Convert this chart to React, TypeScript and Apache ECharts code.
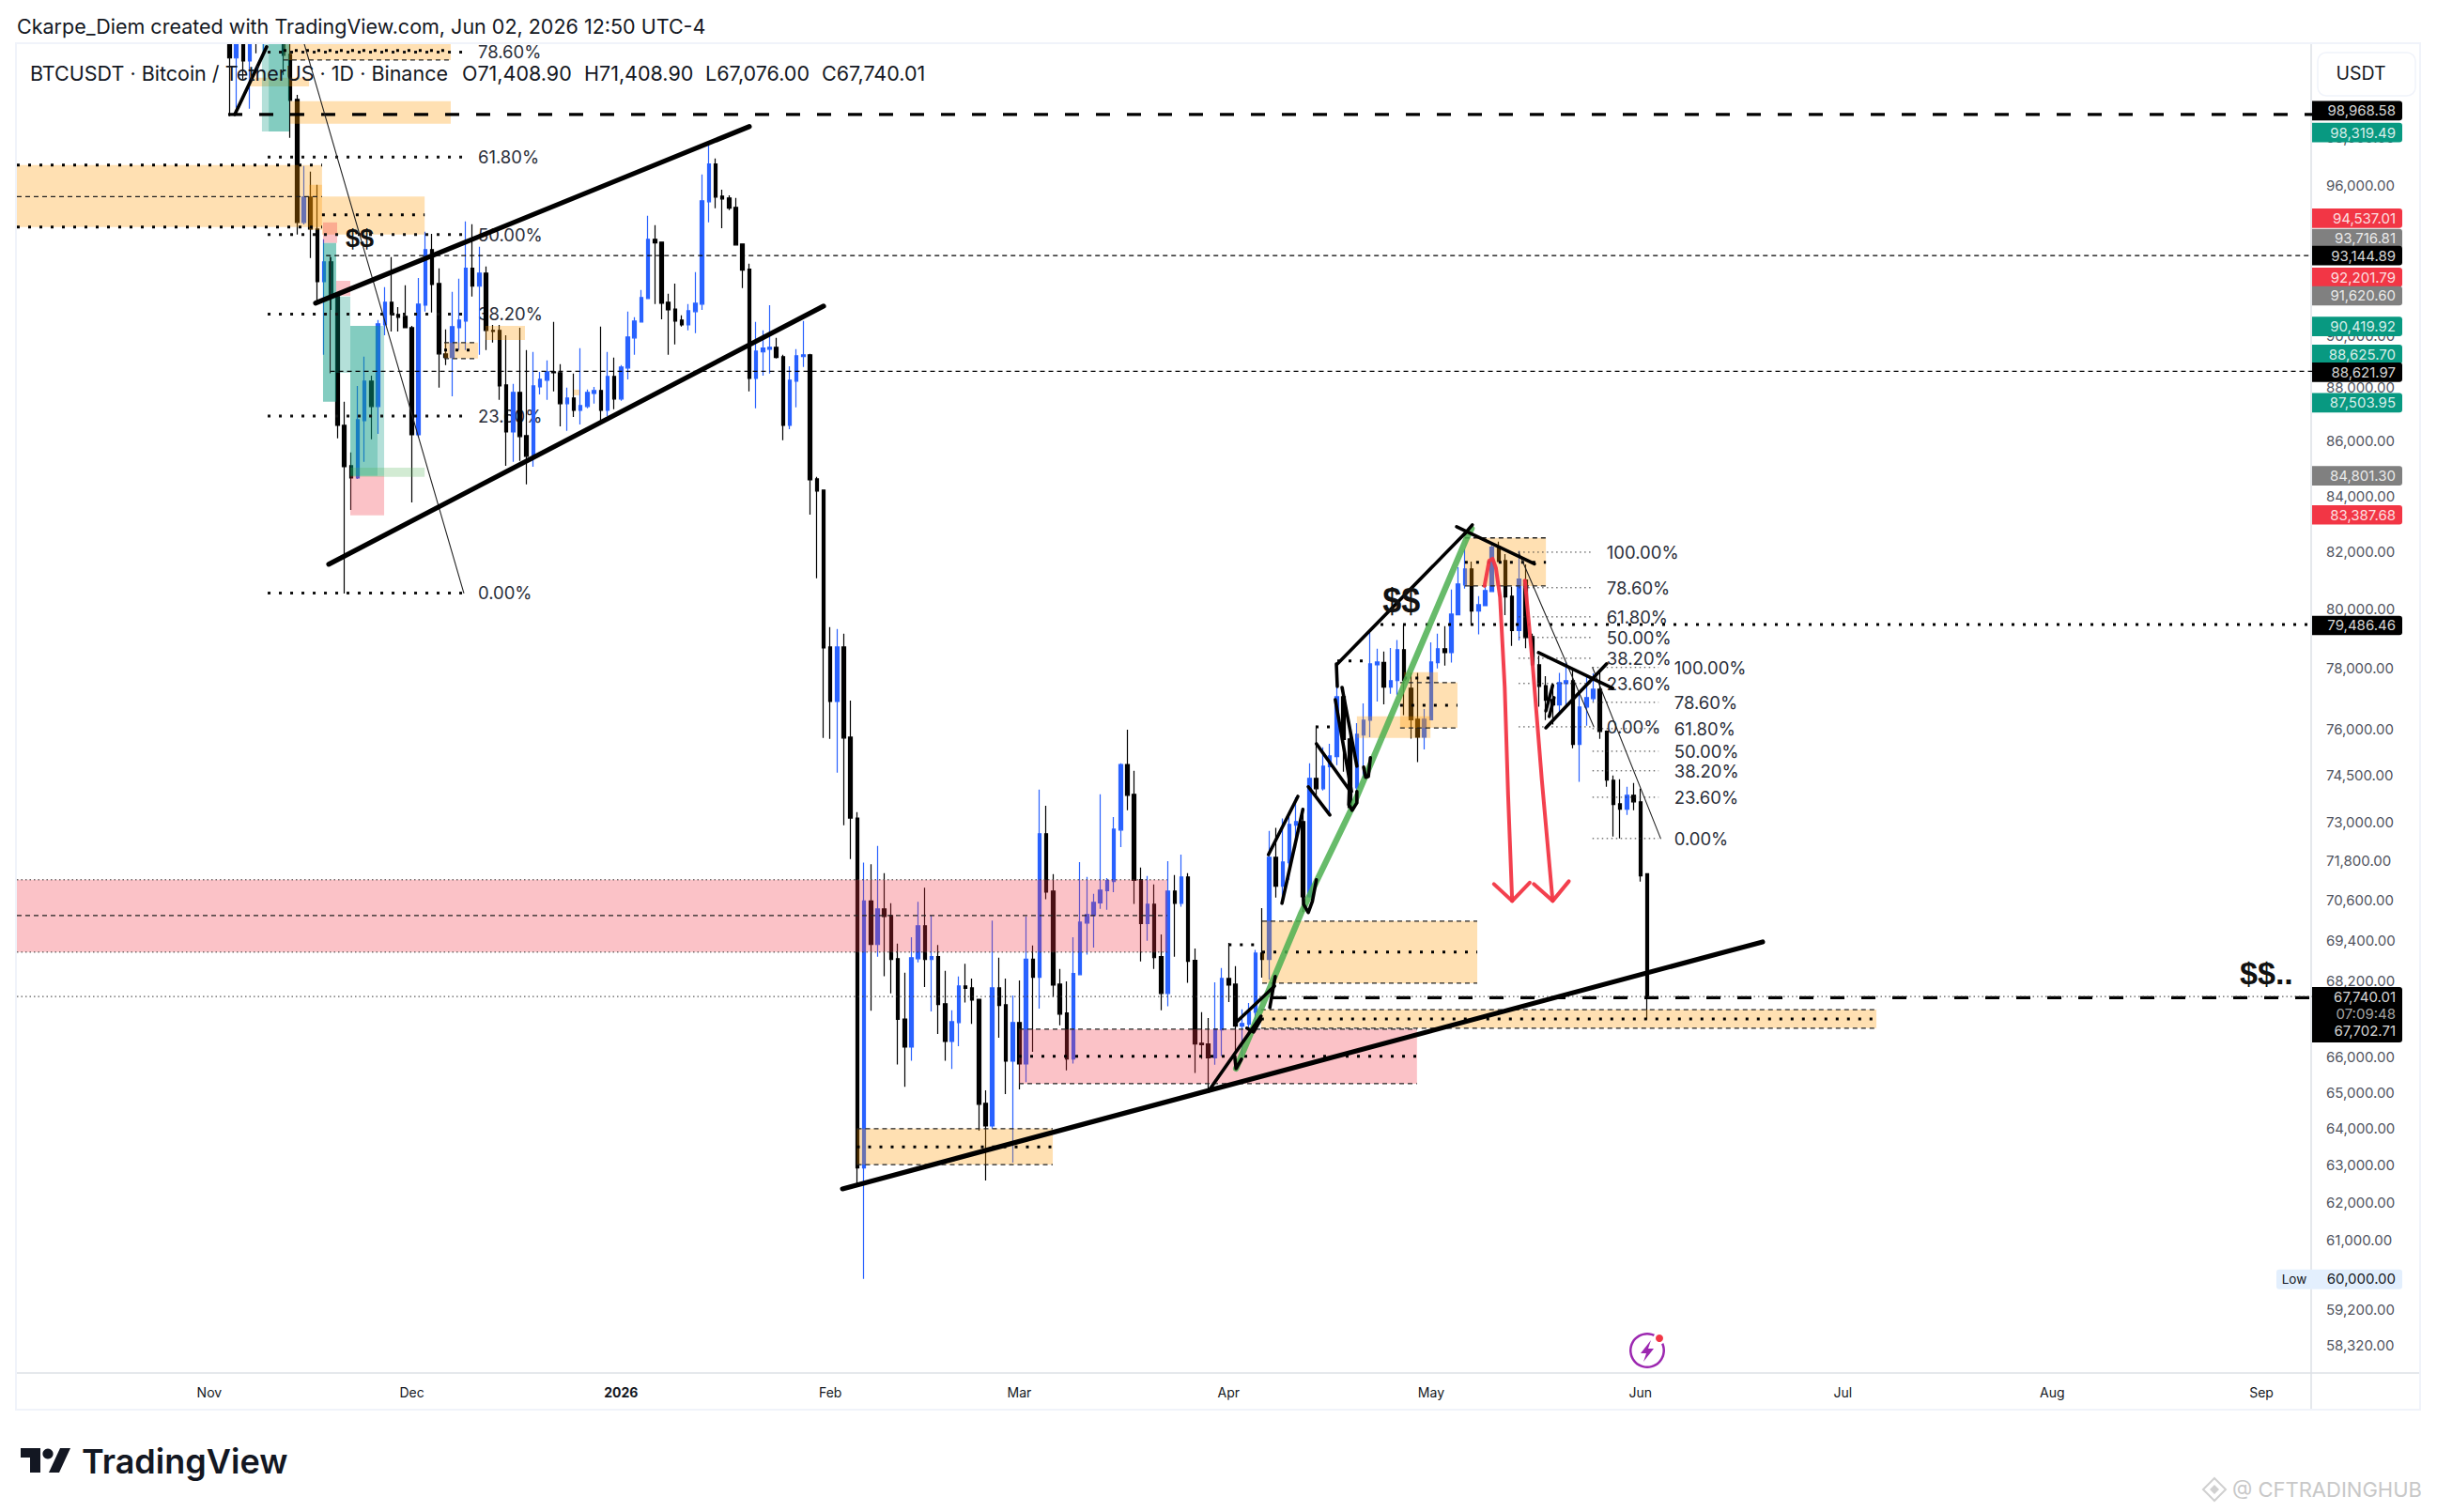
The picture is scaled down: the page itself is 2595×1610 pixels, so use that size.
import React, { useEffect, useRef } from "react";
import * as echarts from "echarts";

const FONT = 'Inter, "Liberation Sans", Arial, sans-serif';
const BOLD_FONT = '"Liberation Sans", Arial, sans-serif';
const dayCount = 340;
const startDate = Date.UTC(2025, 9, 4);
const monthNames = ["2026", "Feb", "Mar", "Apr", "May", "Jun", "Jul", "Aug", "Sep", "Oct", "Nov", "Dec"];
const firstCandleIndex = 31;

// [open, high, low, close] daily
const ohlc: number[][] = [
  [103500,104800,98890,101400],[101400,103300,99250,103000],[103000,103600,100460,101270],[101270,103200,99210,102800],
  [103200,103900,101600,102700],[102700,104600,101600,104000],[106000,106500,103000,104000],[105000,105500,103000,103500],
  [103000,103500,100665,101520],[101560,102100,97975,99570],[99610,99810,93985,94480],[94480,96800,94400,95515],
  [95515,96565,93045,94215],[94215,96020,91220,92105],[92105,93800,89255,92895],[92895,93080,90995,91480],
  [91515,91550,86105,86590],[86590,87470,80550,85065],[85100,85585,83500,84655],[84655,88070,84620,86800],
  [86765,89185,85240,88250],[88250,88460,86070,87295],[87295,90595,86275,90450],[90410,91885,90010,91295],
  [91295,93080,90155,90815],[90815,91105,90155,90705],[90745,91960,90300,90300],[90300,90375,83770,86240],
  [86240,92255,86140,91220],[91180,94100,90925,93380],[93380,94020,90890,91995],[92030,92635,88000,89290],
  [89290,90230,88860,89150],[89150,91700,87680,90340],[90300,92220,89435,90595],[90560,94520,89435,92635],
  [92635,94405,91515,91925],[91925,93495,89255,92445],[92445,92710,89435,90195],[90195,90410,89725,90155],
  [90195,90410,87540,88070],[88105,90010,85100,86345],[86345,88145,85240,87825],[87825,90300,85275,86175],
  [86205,89435,84420,85445],[85445,89365,85065,88070],[88035,88605,87750,88320],[88285,89040,87540,88605],
  [88605,90525,87860,88570],[88570,88895,86555,87400],[87400,88000,86385,87610],[87610,88535,86905,87150],
  [87150,89510,86625,87330],[87295,87930,87225,87825],[87785,88035,87400,87895],[87895,90340,86765,87150],
  [87150,89365,86940,88425],[88425,89150,87190,87575],[87575,88860,87505,88785],[88750,90925,88320,89940],
  [89905,90705,89255,90560],[90525,91775,90525,91480],[91440,94750,91440,93800],[93800,94365,91220,93650],
  [93685,93685,90630,91255],[91295,91625,89255,90995],[91030,92030,89650,90560],[90595,90780,90340,90410],
  [90410,91220,90195,90960],[90925,92480,90085,91255],[91220,96450,90995,95365],[95325,97660,94480,96880],
  [96880,97110,95060,95515],[95555,95820,94250,95440],[95480,95590,94980,95060],[95095,95480,93570,93570],
  [93610,93610,91850,92560],[92600,92820,87860,88355],[88355,90525,87225,89400],[89365,90195,88460,89510],
  [89470,91180,88535,89545],[89545,89905,89110,89150],[89185,89255,86035,86590],[86590,88820,86450,88285],
  [88250,89470,87260,89220],[89185,90560,88785,89255],[89255,89290,83330,84585],[84620,84690,81080,84180],
  [84215,84215,75700,78690],[78720,79395,75670,76900],[76900,79330,74580,78720],[78720,79170,72915,75700],
  [75730,76930,71860,73140],[73140,73325,62515,62930],[62930,71750,60000,70580],[70580,71700,67325,69270],
  [69270,72270,68910,70340],[70340,71430,68330,70110],[70140,70510,67830,68825],[68850,69295,65790,67080],
  [67090,68435,65160,66285],[66285,69490,65895,68880],[68850,70555,68740,69830],[69830,70980,68020,68825],
  [68825,70140,67310,68910],[68910,69260,66660,67510],[67530,68490,65895,66445],[66445,67340,65660,67010],
  [66985,68325,66310,68045],[68045,68700,67565,67975],[67990,68265,66950,67635],[67660,67660,63945,64675],
  [64700,65065,62590,64075],[64075,69990,64000,67990],[67990,68880,66550,67480],[67500,68265,64960,65885],
  [65885,67770,63070,66985],[66985,68210,65090,65805],[65805,70110,65290,68835],[68835,69240,66150,68300],
  [68300,74040,67390,72650],[72650,73530,70630,70850],[70880,71400,67730,68075],[68100,68545,66910,67230],
  [67260,68185,65620,65945],[65945,69490,65815,68410],[68380,71770,68380,69940],[69915,71310,68970,70170],
  [70140,70800,69180,70540],[70520,73890,70340,70910],[70890,71280,70310,71205],[71175,73175,70850,72790],
  [72765,74885,72235,74845],[74845,75975,73390,73860],[73890,74640,70490,71205],[71230,71600,68770,69895],
  [69895,71340,69380,70480],[70480,71080,68545,68880],[68910,69575,67340,67830],[67830,71800,67455,70880],
  [70880,71370,68910,70510],[70510,72000,70405,71310],[71310,71430,68140,68770],[68800,69155,65550,66375],
  [66395,67285,65950,66350],[66370,67120,65090,65975],[65975,68155,65780,66805],[66775,68575,66030,68265],
  [68265,69320,67580,68075],[68100,68630,65950,66885],[66885,67365,66020,66960],[66940,67555,66690,67290],
  [67280,69110,66775,69015],[69015,70360,68295,68830],[68830,72735,68240,71915],[71915,72835,70680,71030],
  [71030,73125,70570,71770],[71750,73175,71230,72940],[72915,73795,72205,73030],[73030,73420,70240,70710],
  [70710,74885,70680,74400],[74400,76100,73770,74070],[74070,75395,74010,74790],[74770,75515,73240,75120],
  [75100,77995,74820,77055],[77055,77375,74610,75655],[75670,76040,73470,73470],[74100,76190,73980,75825],
  [75795,76835,74400,76285],[76285,79200,75730,78150],[78120,78660,76900,78215],[78200,78565,76805,77375],
  [77375,78690,77150,77590],[77590,78955,77120,78630],[78630,79460,76445,77590],[77340,77850,75680,76295],
  [76315,77850,74920,75730],[75730,76650,75330,76315],[76295,78880,76285,78215],[78195,79170,78000,78660],
  [78660,79430,78090,78530],[78530,80685,78195,79840],[79820,81470,79810,80885],[80850,82100,80720,81405],
  [81405,81665,79460,79950],[79950,80460,79150,80165],[80130,80785,80130,80655],[80620,82350,80620,82175],
  [82200,82365,81665,81665],[81700,81930,79810,80435],[80460,80785,78755,79280],[79280,82040,78945,81055],
  [81020,81565,78680,79040],[79075,79170,78120,78120],[78120,78435,76725,77400],[77425,77740,76285,76940],
  [76960,77495,76140,76785],[76785,77850,76500,77525],[77495,78215,76715,77590],[77590,78000,75365,75495],
  [75495,77215,74290,76715],[76715,77740,76100,77025],[76995,77835,76900,77305],[77305,77900,75670,75915],
  [75925,75950,74130,74340],[74340,74490,72560,73570],[73590,74370,72500,73420],[73420,74130,73240,73860],
  [73860,74250,73390,73650],[73650,74070,71170,71345],[71408.9,71408.9,67076,67740.01],
];

const yMin = 57619;
const yMax = 102005;
const priceTicks = [98000,96000,90000,88000,86000,84000,82000,80000,78000,76000,74500,73000,71800,70600,69400,68200,66000,65000,64000,63000,62000,61000,60000,59200,58320];

// Drawings: x is in days on the chart's day scale, y is price
const orangeZones = [
  [39.5,64.27,101310,102300],[34.36,43.27,100170,100540],[40.5,64.27,98570,99530],[0,45.2,94290,96840],
  [45.2,60.4,93985,95535],[43.27,45.2,94180,96020],[63.3,68.3,89110,89725],[69.42,75.26,89830,90375],[82.5,83.33,87715,87930],
  [124.44,153.45,63020,64000],[184.47,216.33,68130,69970],[184.3,275.46,66825,67360],[214.5,226.5,80815,82500],
  [204.9,213.4,76030,77525],[198.5,209.4,75700,76410],[205.5,210.5,77525,77870],
];
const pinkZones = [
  [0,170.4,69045,71225],[148.44,207.4,65250,66795],[45.35,47.44,93650,94480],[47.3,49.39,91550,92140],[49.39,54.4,83300,84725],
];
const tealDarkZones = [[37.3,40.34,98250,102100],[45.35,47.3,87470,93650],[49.39,53.42,84725,90375]];
const tealLightZones = [[36.3,37.3,98250,102100],[47.3,49.39,88570,91515],[53.42,54.4,84725,90375]];
const greenBarZones = [[49.39,60.4,84690,85030]];

const heavyTrendLines = [
  [[44.24,91260],[108.5,98455]],
  [[46.19,81570],[119.5,91145]],
  [[122.3,62365],[258.6,69350]],
];
const penLines = [
  [[32.28,98970],[37,101887]],
  [[195.6,78150],[214.67,82700]],
  [[213.27,82900],[224.8,81585]],
  [[215.6,82965],[214.4,82630]],
  [[225.4,78530],[236.4,77340]],
  [[226.5,76035],[235.5,78155]],
  [[195.46,78150],[195.6,77395]],
  [[195.3,76960],[197.7,73980]],
  [[196.3,77365],[198.5,74790]],
  [[192.5,75515],[197.55,73980]],
  [[191.3,74130],[194.5,73235]],
  [[185.4,72000],[189.76,73825]],
  [[187.4,70510],[190.5,73415]],
  [[190.5,71140],[190.6,70480],[191.3,70230],[191.9,70565],[192.5,71225]],
  [[197.4,74070],[197.3,73560],[197.8,73385],[198.5,73620],[198.5,73980]],
  [[199.5,74760],[199.8,74430],[200.2,74460],[200.5,75060]],
  [[180.7,67010],[186.3,68045]],
  [[185.6,67420],[186.4,68325]],
  [[182.2,66825],[183.2,66715],[184.3,67090]],
  [[180.4,66020],[180.6,65675],[181.4,65940]],
  [[176.5,65035],[184.3,67170]],
  [[226.5,76590],[227.5,77430]],
  [[227,76405],[227.7,77025]],
];
const greenPath = [[[180.6,65675],[190.2,70195],[197.8,73470],[214.7,82460],[215.5,82830]]];
const redPaths = [
  [[217.4,80815],[218.1,81700],[218.6,81765],[219.1,81435],[219.7,80430],[220.4,77370],[220.9,73870],[221.5,70580]],
  [[218.8,71095],[221.5,70580],[224.1,71140]],
  [[223.4,81000],[224.5,78215],[225.9,74340],[227.5,70580]],
  [[224.7,71095],[227.5,70580],[229.9,71180]],
];
const thinPaths = [
  [[42.57,102010],[66.2,80570]],
  [[222.46,81995],[233.6,76065]],
  [[233.4,78030],[243.5,72500]],
  [[46.4,93080],[46.4,88570]],
];

const fibLeftPrices = [101660,97170,93985,90830,86940,80570];
const fibLeftLabels = ["78.60%","61.80%","50.00%","38.20%","23.60%","0.00%"];
const fibMidPrices = [81995,80752,79746,79042,78340,77495,76065];
const fibRightPrices = [78030,76870,76005,75271,74640,73797,72500];
const fibFullLabels = ["100.00%","78.60%","61.80%","50.00%","38.20%","23.60%","0.00%"];

const bigDashLevels = [[31.3,98968.58],[186,67702.71]];
const thinDashLevels = [[45.8,93144.89],[46.4,88621.97]];
const bigDotLevels = [
  [202,340,79486.46],[0,45.2,96840],[0,45.2,94290],[45.2,60.4,94790],[39.5,64.27,101725],[63.3,68.3,89435],
  [148.44,207.4,66020],[124.44,153.45,63500],[184.47,216.33,69045],[184.3,275.46,67090],[214.5,226.5,81635],
  [204.9,213.4,76775],[205.5,210.5,77680],[195.6,199.4,78250],[192.4,194.5,76065],[179.5,183.5,69265],
];
const zoneDashLevels = [
  [39.5,64.27,101310],[0,45.2,95535],[63.3,68.3,89725],[63.3,68.3,89110],[0,170.4,70140],
  [148.44,207.4,66795],[148.44,207.4,65250],[124.44,153.45,64000],[124.44,153.45,63020],
  [184.47,216.33,69970],[184.47,216.33,68130],[184.3,275.46,67360],[184.3,275.46,66825],
  [214.5,226.5,82500],[214.5,226.5,80815],[204.9,213.4,77525],[204.9,213.4,76030],
];
const thinDotLevels = [[0,340,67740.01],[0,170.4,71225],[0,170.4,69045]];

const notePositions = [[48.7,93835],[202.3,80295],[329.3,68430]];
const noteTexts = ["$$","$$","$$.."];
const noteSizes = [27,36,34];

const tagPrices = [98968.58,98319.49,94537.01,93716.81,93144.89,92201.79,91620.6,90419.92,88625.7,88621.97,87503.95,84801.3,83387.68,79486.46];
const tagColors = ["#000000","#089981","#F23645","#808080","#000000","#F23645","#808080","#089981","#089981","#000000","#089981","#808080","#F23645","#000000"];
const tagNudges = [-4,3,-3,-3,0,-2,2,2,-18,1,2,2,2,1];
const currentPrice = 67740.01;
const countdownText = "07:09:48";
const currentPrice2 = 67702.71;
const lowPrice = 60000;

const fmt = (v: number) => v.toLocaleString("en-US", { minimumFractionDigits: 2, maximumFractionDigits: 2 });

const categories = Array.from({ length: dayCount }, (_, i) => new Date(startDate + i * 86400000).toISOString().slice(0, 10));
const candleData = categories.map((_, i) => {
  const r = ohlc[i - firstCandleIndex];
  return r ? [r[0], r[3], r[2], r[1]] : ["-", "-", "-", "-"];
});

function zoneSeries(rows: number[][], color: string, z: number) {
  return {
    type: "custom", xAxisIndex: 1, yAxisIndex: 0, z, clip: true, silent: true,
    encode: { x: [0, 1], y: [2, 3] },
    data: rows,
    renderItem: (_: any, api: any) => {
      const a = api.coord([api.value(0), api.value(3)]);
      const b = api.coord([api.value(1), api.value(2)]);
      return { type: "rect", shape: { x: a[0], y: a[1], width: b[0] - a[0], height: b[1] - a[1] }, style: { fill: color } };
    },
  };
}

function pathSeries(paths: number[][][], stroke: string, lineWidth: number, z: number, lineDash?: number[], lineCap = "round") {
  return {
    type: "custom", xAxisIndex: 1, yAxisIndex: 0, z, clip: true, silent: true,
    encode: { x: 0, y: 1 },
    data: paths.map((p) => p[0]),
    renderItem: (params: any, api: any) => ({
      type: "polyline",
      shape: { points: paths[params.dataIndex].map((p) => api.coord(p)) },
      style: { fill: null, stroke, lineWidth, lineDash, lineCap, lineJoin: "round" },
    }),
  };
}

const segs = (rows: number[][]) => rows.map((r) => [[r[0], r[2]], [r[1], r[2]]]);
const toEnd = (rows: number[][]) => rows.map((r) => [[r[0], r[1]], [dayCount, r[1]]]);

function textSeries(rows: number[][], texts: string[], z: number, font: string, fill: string) {
  return {
    type: "custom", xAxisIndex: 1, yAxisIndex: 0, z, clip: false, silent: true,
    encode: { x: 0, y: 1 },
    data: rows,
    renderItem: (params: any, api: any) => {
      const p = api.coord([api.value(0), api.value(1)]);
      return { type: "text", x: p[0], y: p[1], style: { text: texts[params.dataIndex], font, fill, textAlign: "left", textVerticalAlign: "middle" } };
    },
  };
}

const TAG_FONT = `15px ${FONT}`;

function tagSeries() {
  return {
    type: "custom", xAxisIndex: 1, yAxisIndex: 0, z: 12, clip: false, silent: true,
    encode: { y: 0 },
    data: tagPrices.map((p) => [dayCount, p]),
    renderItem: (params: any, api: any) => {
      const i = params.dataIndex;
      const p = api.coord([dayCount, tagPrices[i]]);
      const cy = p[1] + tagNudges[i];
      return {
        type: "group",
        children: [
          { type: "rect", shape: { x: p[0], y: cy - 10.3, width: 96, height: 20.6, r: [0, 3, 3, 0] }, style: { fill: tagColors[i] } },
          { type: "text", x: p[0] + 89, y: cy, style: { text: fmt(tagPrices[i]), font: TAG_FONT, fill: "rgba(255,255,255,0.85)", textAlign: "right", textVerticalAlign: "middle" } },
        ],
      };
    },
  };
}

function currentTagSeries() {
  return {
    type: "custom", xAxisIndex: 1, yAxisIndex: 0, z: 13, clip: false, silent: true,
    encode: { y: 0 },
    data: [[dayCount, currentPrice]],
    renderItem: (_: any, api: any) => {
      const p = api.coord([dayCount, currentPrice]);
      return {
        type: "group",
        children: [
          { type: "rect", shape: { x: p[0], y: p[1] - 10, width: 96, height: 59, r: [0, 3, 3, 0] }, style: { fill: "#000000" } },
          { type: "text", x: p[0] + 89, y: p[1], style: { text: fmt(currentPrice), font: TAG_FONT, fill: "rgba(255,255,255,0.85)", textAlign: "right", textVerticalAlign: "middle" } },
          { type: "text", x: p[0] + 89, y: p[1] + 18, style: { text: countdownText, font: TAG_FONT, fill: "rgba(255,255,255,0.65)", textAlign: "right", textVerticalAlign: "middle" } },
          { type: "text", x: p[0] + 89, y: p[1] + 36, style: { text: fmt(currentPrice2), font: TAG_FONT, fill: "rgba(255,255,255,0.85)", textAlign: "right", textVerticalAlign: "middle" } },
        ],
      };
    },
  };
}

function lowTagSeries() {
  return {
    type: "custom", xAxisIndex: 1, yAxisIndex: 0, z: 13, clip: false, silent: true,
    encode: { y: 0 },
    data: [[dayCount, lowPrice]],
    renderItem: (_: any, api: any) => {
      const p = api.coord([dayCount, lowPrice]);
      return {
        type: "group",
        children: [
          { type: "rect", shape: { x: p[0] - 38, y: p[1] - 10, width: 134, height: 21, r: 3 }, style: { fill: "#E3EFFD" } },
          { type: "text", x: p[0] - 19, y: p[1], style: { text: "Low", font: `13.5px ${FONT}`, fill: "#131722", textAlign: "center", textVerticalAlign: "middle" } },
          { type: "text", x: p[0] + 89, y: p[1], style: { text: fmt(lowPrice), font: TAG_FONT, fill: "#131722", textAlign: "right", textVerticalAlign: "middle" } },
        ],
      };
    },
  };
}

const PANEL = "#F0F3FA";
const RULE = "#DDE0E6";
const TITLE_FONT = `21.5px ${FONT}`;
const LEGEND_FONT = `21.5px ${FONT}`;

const chrome: any[] = [
  // blank strip above the plot: candles that run off the top of the price range stop at its edge
  { type: "rect", z: 2.5, shape: { x: 0, y: 0, width: 2595, height: 46 }, style: { fill: "#ffffff" } },
  { type: "rect", z: 2.6, shape: { x: 17, y: 46, width: 2560, height: 1455 }, style: { fill: "none", stroke: PANEL, lineWidth: 2 } },
  { type: "line", z: 1, shape: { x1: 18, y1: 1462, x2: 2577, y2: 1462 }, style: { stroke: RULE, lineWidth: 1.5 } },
  { type: "line", z: 1, shape: { x1: 2461, y1: 47, x2: 2461, y2: 1501 }, style: { stroke: RULE, lineWidth: 1.5 } },
  { type: "rect", z: 1, shape: { x: 2468, y: 56, width: 104, height: 46, r: 9 }, style: { fill: "#fff", stroke: PANEL, lineWidth: 1.5 } },
  { type: "text", z: 30, x: 2514, y: 78, style: { text: "USDT", font: `19.5px ${FONT}`, fill: "#131722", textAlign: "center", textVerticalAlign: "middle" } },
  { type: "text", z: 30, x: 18, y: 28, style: { text: "Ckarpe_Diem created with TradingView.com, Jun 02, 2026 12:50 UTC-4", font: TITLE_FONT, fill: "#131722", textVerticalAlign: "middle" } },
  { type: "text", z: 30, x: 32, y: 78, style: { text: "BTCUSDT · Bitcoin / TetherUS · 1D · Binance", font: LEGEND_FONT, fill: "#131722", textVerticalAlign: "middle" } },
  { type: "text", z: 30, x: 492, y: 78, style: { text: "O71,408.90", font: LEGEND_FONT, fill: "#131722", textVerticalAlign: "middle" } },
  { type: "text", z: 30, x: 622, y: 78, style: { text: "H71,408.90", font: LEGEND_FONT, fill: "#131722", textVerticalAlign: "middle" } },
  { type: "text", z: 30, x: 751, y: 78, style: { text: "L67,076.00", font: LEGEND_FONT, fill: "#131722", textVerticalAlign: "middle" } },
  { type: "text", z: 30, x: 875, y: 78, style: { text: "C67,740.01", font: LEGEND_FONT, fill: "#131722", textVerticalAlign: "middle" } },
  // news icon
  { type: "ring", z: 5, shape: { cx: 1754, cy: 1438, r: 19, r0: 16.5 }, style: { fill: "#9C27B0" } },
  { type: "polygon", z: 5, shape: { points: [[1758, 1427], [1747, 1441], [1753, 1441], [1750, 1450], [1761, 1436], [1755, 1436]] }, style: { fill: "#9C27B0" } },
  { type: "circle", z: 6, shape: { cx: 1767, cy: 1425, r: 6.5 }, style: { fill: "#fff" } },
  { type: "circle", z: 7, shape: { cx: 1767, cy: 1425, r: 4 }, style: { fill: "#F23645" } },
  // TradingView logo
  { type: "polygon", z: 5, shape: { points: [[22, 1542], [43, 1542], [43, 1568], [32, 1568], [32, 1552], [22, 1552]] }, style: { fill: "#131722" } },
  { type: "circle", z: 5, shape: { cx: 51, cy: 1548, r: 5.6 }, style: { fill: "#131722" } },
  { type: "polygon", z: 5, shape: { points: [[52, 1568], [64, 1542], [75, 1542], [63, 1568]] }, style: { fill: "#131722" } },
  { type: "text", z: 5, x: 87, y: 1556, style: { text: "TradingView", font: `600 36px ${FONT}`, fill: "#131722", textVerticalAlign: "middle" } },
  // watermark
  { type: "polygon", z: 5, shape: { points: [[2358, 1574], [2370, 1586], [2358, 1598], [2346, 1586]] }, style: { fill: "none", stroke: "#D0D0D0", lineWidth: 2 } },
  { type: "polygon", z: 5, shape: { points: [[2358, 1581], [2363, 1586], [2358, 1591], [2353, 1586]] }, style: { fill: "#D0D0D0" } },
  { type: "text", z: 5, x: 2377, y: 1586, style: { text: "@ CFTRADINGHUB", font: `22px ${FONT}`, fill: "#C8C8C8", textVerticalAlign: "middle" } },
];

const option: any = {
  animation: false,
  backgroundColor: "#ffffff",
  grid: { left: 18, right: 133, top: 47, bottom: 148 },
  xAxis: [
    {
      type: "category",
      data: categories,
      boundaryGap: true,
      axisLine: { show: false },
      axisTick: { show: false },
      splitLine: { show: false },
      axisLabel: {
        interval: (_: number, v: string) => v.endsWith("-01"),
        margin: 13,
        fontFamily: FONT,
        fontSize: 14,
        color: "#131722",
        formatter: (v: string) => {
          const m = Number(v.slice(5, 7));
          if (m === 1) return "{b|2026}";
          return m >= 10 ? { 10: "Oct", 11: "Nov", 12: "Dec" }[m] : monthNames[m - 1];
        },
        rich: { b: { fontWeight: "bold", fontFamily: FONT, fontSize: 14, color: "#131722" } },
      },
    },
    { type: "value", min: 0, max: dayCount, show: false },
  ],
  yAxis: {
    type: "log",
    logBase: 10,
    min: yMin,
    max: yMax,
    position: "right",
    axisLine: { show: false },
    axisTick: { show: false },
    splitLine: { show: false },
    minorTick: { show: false },
    axisLabel: {
      customValues: priceTicks,
      margin: 15,
      fontFamily: FONT,
      fontSize: 15,
      color: "#50535E",
      hideOverlap: false,
      formatter: (v: number) => fmt(v),
    },
  },
  graphic: chrome,
  series: [
    textSeries(fibLeftPrices.map((p) => [68.3, p]), fibLeftLabels, 1, `18.5px ${FONT}`, "#2A2E39"),
    textSeries(fibMidPrices.map((p) => [235.5, p]), fibFullLabels, 1, `18.5px ${FONT}`, "#2A2E39"),
    textSeries(fibRightPrices.map((p) => [245.5, p]), fibFullLabels, 1, `18.5px ${FONT}`, "#2A2E39"),
    {
      type: "candlestick",
      xAxisIndex: 0,
      yAxisIndex: 0,
      z: 2,
      barWidth: 4,
      clip: true,
      data: candleData,
      itemStyle: { color: "#2962FF", color0: "#000000", borderColor: "#2962FF", borderColor0: "#000000", borderColorDoji: "#000000", borderWidth: 1.2 },
    },
    zoneSeries(orangeZones, "rgba(255,152,0,0.3)", 3),
    zoneSeries(pinkZones, "rgba(242,54,69,0.3)", 3),
    zoneSeries(tealDarkZones, "rgba(8,153,129,0.5)", 3),
    zoneSeries(tealLightZones, "rgba(8,153,129,0.3)", 3),
    zoneSeries(greenBarZones, "rgba(76,175,80,0.25)", 3),
    pathSeries(segs(fibLeftPrices.map((p) => [37.15, 66.2, p])), "#111", 3, 4, [3, 9], "butt"),
    pathSeries(segs(fibMidPrices.map((p) => [222.46, 233.16, p])), "#333", 1, 4, [1.5, 3.5], "butt"),
    pathSeries(segs(fibRightPrices.map((p) => [233.4, 243.2, p])), "#333", 1, 4, [1.5, 3.5], "butt"),
    pathSeries(toEnd(bigDashLevels), "#000", 3.2, 4, [15, 18], "butt"),
    pathSeries(toEnd(thinDashLevels), "#000", 1.3, 4, [5, 4], "butt"),
    pathSeries(segs(bigDotLevels), "#000", 3, 4, [3, 9], "butt"),
    pathSeries(segs(zoneDashLevels), "#222", 1.3, 4, [5, 4], "butt"),
    pathSeries(segs(thinDotLevels), "#333", 1, 4, [1.5, 3], "butt"),
    pathSeries(thinPaths, "#222", 1.1, 5),
    pathSeries(greenPath, "rgba(76,175,80,0.85)", 6.5, 5),
    pathSeries(heavyTrendLines, "#000", 5.2, 6),
    pathSeries(penLines, "#000", 3.6, 6),
    pathSeries(redPaths, "rgba(242,54,69,0.95)", 4, 7),
    ...notePositions.map((p, i) => textSeries([p], [noteTexts[i]], 8, `bold ${noteSizes[i]}px ${BOLD_FONT}`, "#111")),
    tagSeries(),
    currentTagSeries(),
    lowTagSeries(),
  ],
};

export default function App() {
  const ref = useRef<HTMLDivElement>(null);
  useEffect(() => {
    document.body.style.margin = "0";
    const chart = echarts.init(ref.current!, undefined, { renderer: "svg" });
    chart.setOption(option);
    return () => chart.dispose();
  }, []);
  return <div ref={ref} style={{ width: 2595, height: 1610 }} />;
}
